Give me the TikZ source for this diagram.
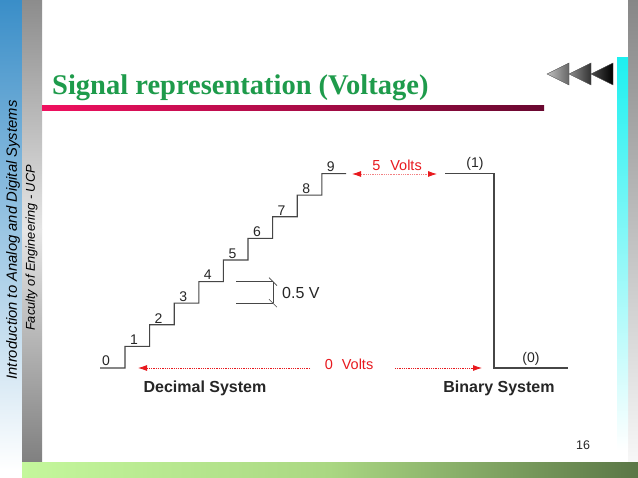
\documentclass[tikz,border=0pt]{standalone}
\usepackage{fontspec}
\setmainfont{Liberation Sans}
\newfontfamily\titlefont{Liberation Serif}
\usetikzlibrary{arrows.meta}
\definecolor{titlegreen}{RGB}{30,155,75}
\definecolor{volred}{RGB}{232,25,30}
\definecolor{stairgray}{RGB}{70,70,70}
\begin{document}
\begin{tikzpicture}[x=1pt,y=-1pt,
  stair/.style={draw=stairgray,line width=1.1pt},
  lbl/.style={inner sep=0pt,font=\fontsize{14}{14}\selectfont,text=black!85},
  syslbl/.style={inner sep=0pt,font=\fontsize{16}{16}\selectfont\bfseries,text=black!85},
  redlbl/.style={inner sep=0pt,font=\fontsize{14.5}{14.5}\selectfont,text=volred},
  redarrow/.style={volred,densely dotted,line width=0.8pt,-{Latex[length=9pt,width=6pt]}},
  tri/.style={draw=black!70,line width=0.4pt}]
\useasboundingbox (0,0) rectangle (638,478);
\fill[white] (0,0) rectangle (638,478);
% left strips
\shade[top color={rgb,255:red,58;green,142;blue,200},bottom color=white] (0,0) rectangle (22,470);
\shade[top color=black!45,bottom color=black!10] (22,0) rectangle (42,230);
\shade[top color=black!10,bottom color=black!50] (22,230) rectangle (42,463);
% right strips
\shade[top color=black!47,bottom color=black!3] (628,0) rectangle (638,463);
\shade[top color={rgb,255:red,30;green,240;blue,240},bottom color=white] (617,58) rectangle (628,450);
% bottom bar
\shade[left color={rgb,255:red,196;green,247;blue,156},right color={rgb,255:red,90;green,118;blue,70},middle color={rgb,255:red,170;green,215;blue,130}] (22,463) rectangle (638,478);
% side texts
\node[rotate=90,inner sep=0pt,font=\fontsize{14.8}{14.8}\selectfont\itshape] (course) at (13,240) {Introduction to Analog and Digital Systems};
\node[rotate=90,inner sep=0pt,font=\fontsize{12.8}{12.8}\selectfont\itshape] (faculty) at (31.5,248) {Faculty of Engineering - UCP};
% title
\node[anchor=base west,inner sep=0pt,text=titlegreen,font=\titlefont\fontsize{28.5}{28.5}\selectfont\bfseries] (title) at (52,95) {Signal representation (Voltage)};
\shade[left color={rgb,255:red,240;green,16;blue,95},right color={rgb,255:red,105;green,8;blue,48}] (42,106) rectangle (544,111);
% back triangles
\foreach \x/\c in {547/25,569/45,591/70}{
  \shade[tri,left color=black!\c,right color=black!\the\numexpr\c+35\relax] (\x,74) -- (\x+22,63) -- (\x+22,85) -- cycle;
}
% stairs
\draw[stair] (100,368) foreach \k in {1,...,9} { -- ({125+(\k-1)*24.6},{368-(\k-1)*21.6}) -- ({125+(\k-1)*24.6},{368-\k*21.6}) } -- (346,173.6);
\node[lbl,anchor=south] (d0) at (106,365.5) {0};
\foreach \k in {1,...,9}{
  \node[lbl,anchor=south] (d\k) at ({125+(\k-1)*24.6+9},{368-\k*21.6-1.5}) {\k};
}
% 0.5 V marker
\coordinate (ma) at (236,281.6);
\coordinate (mb) at (273,281.6);
\coordinate (mc) at (236,303.2);
\coordinate (md) at (273,303.2);
\draw[stairgray,line width=0.9pt] (ma) -- (mb) (mc) -- (md);
\draw[stairgray,line width=0.7pt] (mb) -- (md);
\draw[stairgray,line width=0.6pt] ([xshift=-4pt,yshift=4pt]mb) -- ([xshift=4pt,yshift=-4pt]mb)
  ([xshift=-4pt,yshift=4pt]md) -- ([xshift=4pt,yshift=-4pt]md);
\node[lbl,anchor=west,font=\fontsize{16}{16}\selectfont] (half) at (282,293) {0.5 V};
% binary
\draw[stair] (445,173.6) -- (494,173.6) -- (494,368) -- (568,368);
\node[lbl,anchor=south] (b1) at (475,170.5) {(1)};
\node[lbl,anchor=south] (b0) at (531,365.5) {(0)};
% volts
\node[redlbl] (five) at (397,165) {5\hspace{10pt}Volts};
\coordinate (fl) at (352,174);
\coordinate (fr) at (437,174);
\coordinate (fm) at (394,174);
\draw[redarrow,volred!55,-{Latex[length=9pt,width=6pt,color=volred]}] (fm) -- (fl);
\draw[redarrow,volred!55,-{Latex[length=9pt,width=6pt,color=volred]}] (fm) -- (fr);
\node[redlbl] (zero) at (349,364) {0\hspace{9pt}Volts};
\coordinate (zl) at (138,368);
\coordinate (zlr) at (310,368);
\coordinate (zrl) at (395,368);
\coordinate (zr) at (482,368);
\draw[redarrow] (zlr) -- (zl);
\draw[redarrow] (zrl) -- (zr);
\node[syslbl] (dec) at (205,388) {Decimal System};
\node[syslbl] (bin) at (499,388) {Binary System};
\node[lbl,font=\fontsize{12.5}{12.5}\selectfont] (page) at (583,445) {16};
\end{tikzpicture}
\end{document}
